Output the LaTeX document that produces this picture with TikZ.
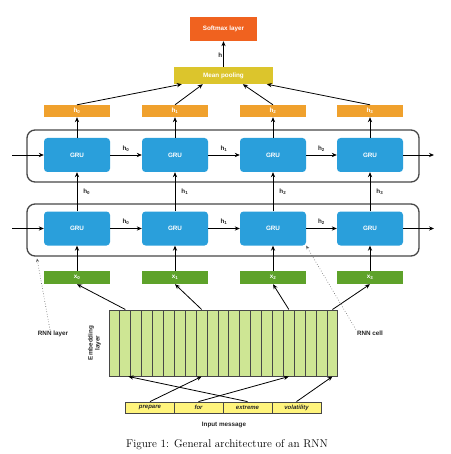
\documentclass[tikz,border=0pt]{standalone}
\usepackage{fontspec}
\newfontfamily\lab{Liberation Sans}
\usetikzlibrary{arrows.meta,calc}
\definecolor{softc}{HTML}{F0621F}
\definecolor{meanc}{HTML}{DCC52C}
\definecolor{hc}{HTML}{F0A12D}
\definecolor{gruc}{HTML}{2A9FDB}
\definecolor{xc}{HTML}{5EA22A}
\definecolor{embc}{HTML}{CEE694}
\definecolor{wordc}{HTML}{FFF47C}
\definecolor{edgec}{HTML}{474747}
\begin{document}
\begin{tikzpicture}[x=1pt,y=-1pt,
  txt/.style={font=\lab\bfseries\fontsize{6.3}{7.5}\selectfont},
  box/.style={txt, draw=none, minimum width=66pt, inner sep=0pt, text=white},
  gru/.style={box, fill=gruc, minimum height=34pt, rounded corners=3.5pt},
  hbox/.style={box, fill=hc, minimum height=12pt},
  xbox/.style={box, fill=xc, minimum height=13pt},
  arr/.style={-{Stealth[length=5pt,width=4.2pt]}, line width=0.8pt},
  lbl/.style={txt, text=black!85, inner sep=1pt},
  outer/.style={draw=edgec, line width=1.3pt, rounded corners=8pt, minimum width=392pt, minimum height=52pt, inner sep=0pt},
  col/.style={draw=edgec, line width=1pt, fill=embc, minimum width=10.9pt, minimum height=66pt, inner sep=0pt},
  word/.style={draw=edgec, line width=0.8pt, fill=wordc, minimum width=49pt, minimum height=11pt, inner sep=0pt, font=\lab\bfseries\itshape\fontsize{6}{7}\selectfont, text=black!85},
  dot/.style={dotted, line width=0.6pt, black!65, -{Stealth[length=3.5pt,width=3pt]}}
]
\useasboundingbox (0,0) rectangle (450,454);

% top
\node[box, fill=softc, minimum width=67pt, minimum height=24pt] (soft) at (223.5,29) {Softmax layer};
\node[box, fill=meanc, minimum width=99pt, minimum height=17pt] (mp) at (223.5,75.5) {Mean pooling};
\draw[arr] (mp) -- node[lbl, left, pos=0.45] {h} (soft);

% RNN layers
\node[outer] (L1) at (223,156) {};
\node[outer] (L2) at (223,230) {};

\foreach \i/\x in {0/77,1/175,2/273,3/370}{
  \node[hbox] (h\i) at (\x,111) {h\textsubscript{\i}};
  \node[gru] (a\i) at (\x,155) {GRU};
  \node[gru] (b\i) at (\x,228.5) {GRU};
  \node[xbox] (x\i) at (\x,277.5) {x\textsubscript{\i}};
  \draw[arr] (a\i) -- (h\i);
  \draw[arr] (b\i) -- node[lbl, right, xshift=5pt, pos=0.5] {h\textsubscript{\i}} (a\i);
  \draw[arr] (x\i) -- (b\i);
}
\foreach \i/\j in {0/1,1/2,2/3}{
  \draw[arr] (a\i) -- node[lbl, above, yshift=2.5pt] {h\textsubscript{\i}} (a\j);
  \draw[arr] (b\i) -- node[lbl, above, yshift=2.5pt] {h\textsubscript{\i}} (b\j);
}
\coordinate (ina) at (12,155);
\coordinate (inb) at (12,228.5);
\coordinate (outa) at (434,155);
\coordinate (outb) at (434,228.5);
\draw[arr] (ina) -- (a0);
\draw[arr] (inb) -- (b0);
\draw[arr] (a3) -- (outa);
\draw[arr] (b3) -- (outb);

% into mean pooling
\draw[arr] (h0.north) -- ($(mp.south west)+(8,0)$);
\draw[arr] (h1.north) -- ($(mp.south west)+(29,0)$);
\draw[arr] (h2.north) -- ($(mp.south west)+(69,0)$);
\draw[arr] (h3.north) -- ($(mp.south west)+(93,0)$);

% embedding layer
\foreach \k in {0,...,20}{
  \node[col] (c\k) at ({109+10.9*(\k+0.5)},343) {};
}
\node[lbl, rotate=90, align=center, font=\lab\bfseries\fontsize{6.3}{7.2}\selectfont] (emb) at (94.5,343) {Embedding\\layer};

\draw[arr] (c1.north) -- (x0.south);
\draw[arr] (c8.north) -- (x1.south);
\draw[arr] (c16.north) -- (x2.south);
\draw[arr] (c20.north) -- (x3.south);

% words
\node[word] (w0) at (150,407.5) {prepare};
\node[word] (w1) at (198.5,407.5) {for};
\node[word] (w2) at (247.5,407.5) {extreme};
\node[word] (w3) at (296.5,407.5) {volatility};
\draw[arr] (w0.north) -- (c8.south);
\draw[arr] (w1.north) -- (c16.south);
\draw[arr] (w2.north) -- ($(c1.south)+(3,0)$);
\draw[arr] (w3.north) -- (c20.south);
\node[lbl] (inmsg) at (224,425) {Input message};

% annotations
\node[lbl] (rnnl) at (53,334) {RNN layer};
\node[lbl] (rnnc) at (370,333) {RNN cell};
\coordinate (cL) at (37,258.5);
\draw[dot] ($(rnnl.north)+(-3,0)$) -- (cL);
\draw[dot] (rnnc.north west) -- (b2.south east);

% caption
\node[font=\normalfont\fontsize{11.2}{13}\selectfont, inner sep=0pt] (cap) at (227,445) {Figure 1: General architecture of an RNN};
\end{tikzpicture}
\end{document}
